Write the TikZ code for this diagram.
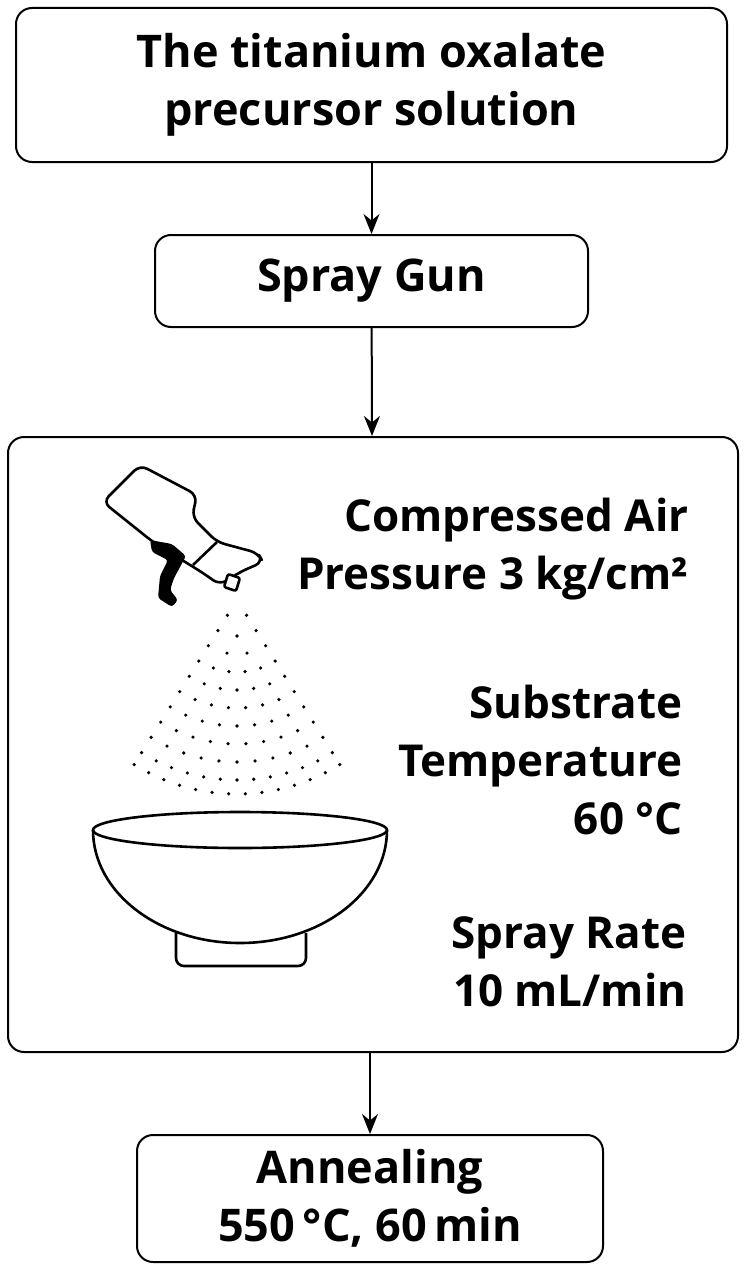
\documentclass[tikz,border=0pt]{standalone}
\usepackage{fontspec}
\setmainfont{Open Sans}
\usetikzlibrary{arrows.meta}
\tikzset{
  stepbox/.style={draw, line width=2pt, rounded corners=16pt, align=center,
    font=\fontsize{45}{58}\selectfont\bfseries},
  infotext/.style={align=right, anchor=east, font=\fontsize{44}{58}\selectfont\bfseries},
  flow/.style={line width=2pt, -{Stealth[length=20pt,width=16pt]}},
  sprayline/.style={line width=2.6pt, line join=round, rounded corners=4pt}
}
\begin{document}
\begin{tikzpicture}[x=1pt,y=-1pt]
  \useasboundingbox (0,0) rectangle (746,1271);

  \node[stepbox, minimum width=711pt, minimum height=154pt] at (371.5, 85) (solution) {The titanium oxalate\\precursor solution};
  \node[stepbox, minimum width=433pt, minimum height=92pt] at (371.5, 281) (gun) {Spray Gun};
  \node[stepbox, minimum width=730pt, minimum height=615pt] at (373, 744.5) (spray) {};
  \node[stepbox, minimum width=466pt, minimum height=127pt] at (370, 1198.5) (anneal) {Annealing\\550\,°C, 60\,min};

  \draw[flow] (solution) -- (gun);
  \draw[flow] (gun) -- (spray);
  \draw[flow] (spray.south -| anneal.north) -- (anneal);

  % settings
  \node[infotext] at (692, 549) (air) {Compressed Air\\Pressure 3 kg/cm²};
  \node[infotext] at (686, 760) (temp) {Substrate\\Temperature\\60 °C};
  \node[infotext] at (690, 962) (rate) {Spray Rate\\10 mL/min};

  % bottle
  \draw[sprayline, rounded corners=8pt] (140,465) -- (197,495) -- (192,517) -- (217,542)
    -- (258,553) -- (263,562) -- (240,572) -- (220,585) -- (203,573) -- (153,542) -- (103,502) -- cycle;
  \draw[sprayline] (217,542) -- (193,565);
  \fill[rounded corners=3pt] (150,540) -- (172,544) -- (186,556) -- (174,578) -- (170,590) -- (178,600)
    -- (172,607) -- (158,598) -- (160,576) -- (168,560) -- (152,552) -- cycle;
  \draw[sprayline, fill=white, rounded corners=2pt] (228,574) -- (240,578) -- (236,591) -- (224,587) -- cycle;

  % spray dots
  \foreach \r in {18,36,54,72,90,108,126,144,162,180,194} {
    \pgfmathtruncatemacro{\n}{max(1,round(\r*1.1/17))}
    \foreach \k in {0,...,\n} {
      \pgfmathsetmacro{\ang}{-32+64*\k/\n}
      \fill[shift={(237,600)}] ({\r*sin(\ang)},{\r*cos(\ang)}) circle (1.8pt);
    }
  }

  % bowl
  \draw[line width=2.6pt] (93,830) arc[start angle=180, end angle=0, x radius=147, y radius=113];
  \draw[line width=2.6pt] (240,830) ellipse[x radius=147, y radius=18];
  \draw[line width=2.6pt, rounded corners=8pt] (176,933) -- (176,966) -- (306,966) -- (306,933);
\end{tikzpicture}
\end{document}
